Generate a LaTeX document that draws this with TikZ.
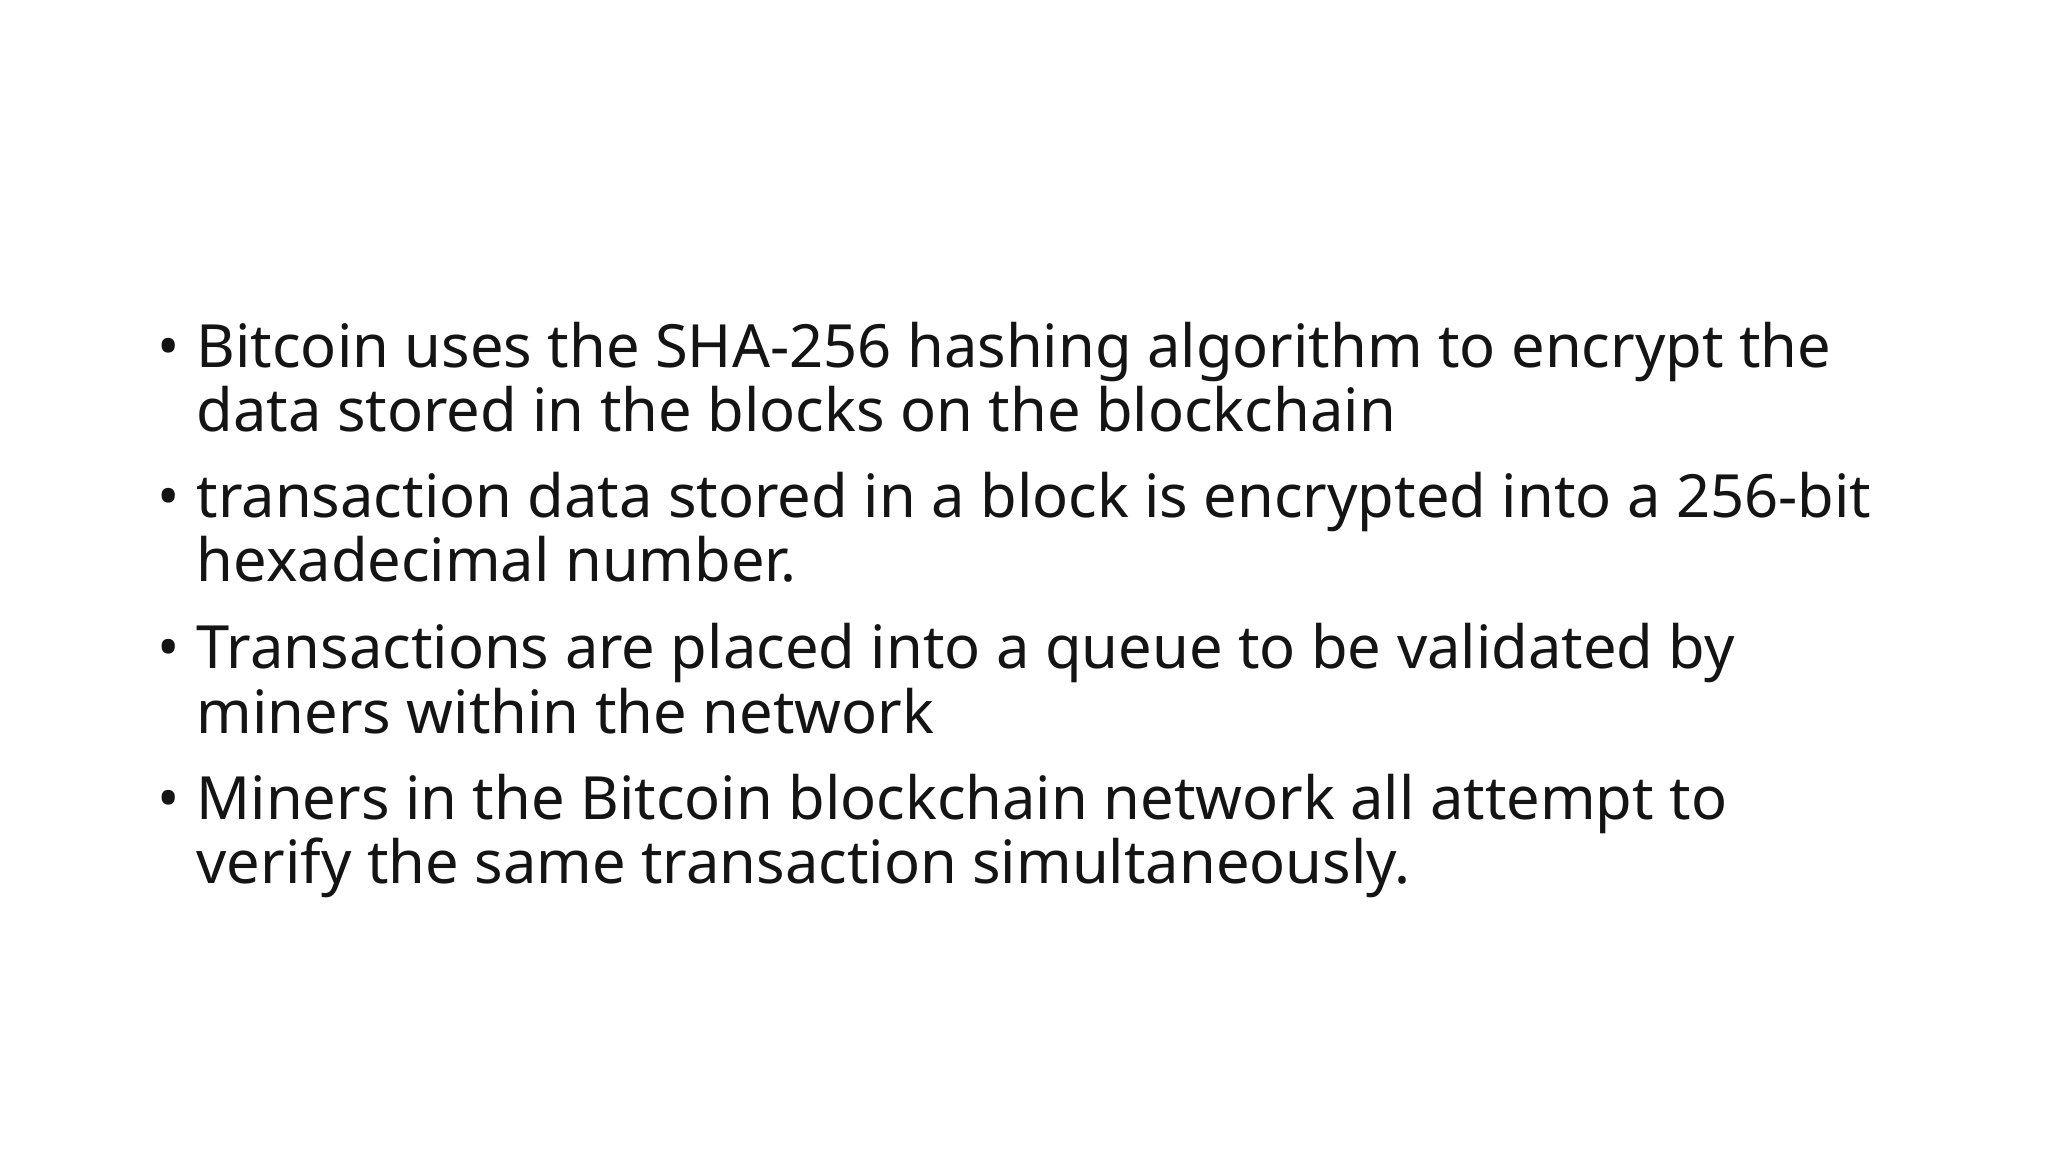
\documentclass[tikz,border=0pt]{standalone}
\usepackage{fontspec}
\setmainfont{Noto Sans}
\begin{document}
\begin{tikzpicture}[x=0.01cm,y=-0.01cm,
  txt/.style={anchor=base west,inner sep=0pt,font=\fontsize{16.95pt}{18pt}\selectfont,text=black!92},
  bul/.style={anchor=base west,inner sep=0pt,font=\fontsize{16.95pt}{18pt}\selectfont,text=black!92}]
\useasboundingbox[fill=white] (0,0) rectangle (2048,1152);
\node[bul] (b1) at (157,368) {•};
\node[txt] (l1a) at (196,368) {Bitcoin uses the SHA-256 hashing algorithm to encrypt the};
\node[txt] (l1b) at (196,432) {data stored in the blocks on the blockchain};
\node[bul] (b2) at (157,518) {•};
\node[txt] (l2a) at (196,518) {transaction data stored in a block is encrypted into a 256-bit};
\node[txt] (l2b) at (196,582) {hexadecimal number.};
\node[bul] (b3) at (157,669) {•};
\node[txt] (l3a) at (196,669) {Transactions are placed into a queue to be validated by};
\node[txt] (l3b) at (196,733) {miners within the network};
\node[bul] (b4) at (157,819) {•};
\node[txt] (l4a) at (196,819) {Miners in the Bitcoin blockchain network all attempt to};
\node[txt] (l4b) at (196,883) {verify the same transaction simultaneously.};
\end{tikzpicture}
\end{document}
